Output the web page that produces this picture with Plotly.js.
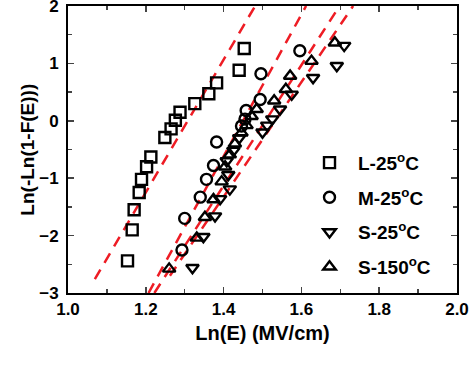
<!DOCTYPE html>
<html>
<head>
<meta charset="utf-8">
<script src="https://cdn.plot.ly/plotly-3.0.1.min.js"></script>
<style>html,body{margin:0;padding:0;background:#fff;}#chart{width:474px;height:374px;}</style>
</head>
<body>
<div id="chart"></div>
<script>
// L-25°C (squares)
const lX = [1.153, 1.165, 1.170, 1.183, 1.189, 1.202, 1.213, 1.249, 1.265, 1.276, 1.288, 1.326, 1.362, 1.382, 1.440, 1.453];
const lY = [-2.44, -1.90, -1.55, -1.25, -1.02, -0.80, -0.63, -0.29, -0.14, 0.01, 0.15, 0.30, 0.47, 0.66, 0.88, 1.26];
// M-25°C (circles)
const mX = [1.293, 1.300, 1.340, 1.356, 1.374, 1.382, 1.446, 1.455, 1.458, 1.494, 1.496, 1.596];
const mY = [-2.25, -1.70, -1.33, -1.02, -0.78, -0.37, -0.09, 0.03, 0.18, 0.37, 0.82, 1.22];
// S-25°C (down triangles)
const s25X = [1.320, 1.348, 1.378, 1.391, 1.416, 1.412, 1.408, 1.425, 1.440, 1.500, 1.512, 1.525, 1.545, 1.575, 1.630, 1.691, 1.710];
const s25Y = [-2.56, -2.02, -1.66, -1.36, -1.19, -0.94, -0.70, -0.52, -0.30, -0.20, -0.08, 0.03, 0.20, 0.46, 0.75, 0.96, 1.31];
// S-150°C (up triangles)
const s150X = [1.260, 1.331, 1.352, 1.374, 1.395, 1.404, 1.416, 1.429, 1.446, 1.459, 1.472, 1.485, 1.530, 1.560, 1.571, 1.626, 1.686];
const s150Y = [-2.58, -2.04, -1.68, -1.37, -1.06, -0.80, -0.59, -0.40, -0.21, -0.08, 0.08, 0.20, 0.35, 0.55, 0.78, 1.04, 1.36];
// Weibull fit lines (end points)
const fitLX = [1.069, 1.481], fitLY = [-2.76, 2.0];
const fitMX = [1.207, 1.612], fitMY = [-3.0, 2.0];
const fitS25X = [1.222, 1.698], fitS25Y = [-3.0, 2.0];
const fitS150X = [1.262, 1.733], fitS150Y = [-2.7, 2.0];

const names = ['L-25<sup>o</sup>C', 'M-25<sup>o</sup>C', 'S-25<sup>o</sup>C', 'S-150<sup>o</sup>C'];
const xTitle = 'Ln(E) (MV/cm)';
const yTitle = 'Ln(-Ln(1-F(E)))';

function fit(x, y) {
  return {x: x, y: y, type: 'scatter', mode: 'lines', showlegend: false, hoverinfo: 'skip',
    line: {color: '#ee1c24', width: 2.5, dash: '11px,8px'}};
}
function pts(x, y, sym, name, g) {
  return {x: x, y: y, type: 'scatter', mode: 'markers', name: name, legendgroup: g,
    marker: {symbol: sym, size: 11, color: '#000', line: {color: '#000', width: 2.4}}};
}
const data = [
  fit(fitLX, fitLY), fit(fitMX, fitMY), fit(fitS25X, fitS25Y), fit(fitS150X, fitS150Y),
  pts(lX, lY, 'square-open', names[0], 'a'),
  pts(mX, mY, 'circle-open', names[1], 'b'),
  pts(s25X, s25Y, 'triangle-down-open', names[2], 'c'),
  pts(s150X, s150Y, 'triangle-up-open', names[3], 'd')
];
const axFont = {family: 'Arial, Liberation Sans, sans-serif', size: 17, color: '#000', weight: 'bold'};
const layout = {
  width: 474, height: 374,
  margin: {l: 68, r: 17, t: 6, b: 81},
  paper_bgcolor: '#fff', plot_bgcolor: '#fff',
  font: {family: 'Arial, Liberation Sans, sans-serif', color: '#000'},
  showlegend: true,
  legend: {x: 0.599, y: 0.52, xanchor: 'left', yanchor: 'top', bgcolor: 'rgba(0,0,0,0)',
    font: {size: 19, weight: 'bold', color: '#000'}, tracegroupgap: 7, itemwidth: 47},
  xaxis: {range: [1.0, 2.0], tick0: 1.0, dtick: 0.2, tickformat: '.1f', ticks: 'inside', ticklen: 6, tickwidth: 1.5,
    showline: true, linewidth: 2, linecolor: '#000', mirror: 'allticks', showgrid: false, zeroline: false,
    tickfont: axFont, ticklabeloverflow: 'allow',
    minor: {dtick: 0.1, ticks: 'inside', ticklen: 4, tickwidth: 1.5, showgrid: false},
    title: {text: xTitle, font: {size: 20, weight: 'bold', color: '#000'}, standoff: 8}},
  yaxis: {range: [-3, 2], dtick: 1, ticks: 'inside', ticklen: 6, tickwidth: 1.5,
    showline: true, linewidth: 2, linecolor: '#000', mirror: 'allticks', showgrid: false, zeroline: false,
    tickfont: axFont, ticklabelstandoff: 4, ticklabeloverflow: 'allow',
    minor: {dtick: 0.5, ticks: 'inside', ticklen: 4, tickwidth: 1.5, showgrid: false}},
  annotations: [{text: yTitle, xref: 'paper', yref: 'paper', x: -0.105, y: 0.5, xanchor: 'center', yanchor: 'middle',
    textangle: -90, showarrow: false, font: {size: 19, weight: 'bold', color: '#000'}}]
};
Plotly.newPlot('chart', data, layout, {displayModeBar: false, staticPlot: true});
</script>
</body>
</html>
